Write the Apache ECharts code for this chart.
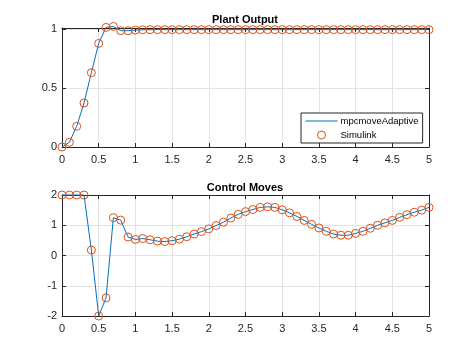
<!DOCTYPE html>
<html>
<head>
<meta charset="utf-8">
<script src="https://cdn.jsdelivr.net/npm/echarts@6/dist/echarts.min.js"></script>
<style>
html,body{margin:0;padding:0;background:#fff;}
#c{width:474px;height:355px;}
</style>
</head>
<body>
<div id="c"></div>
<script>
// Time samples (s)
const time = [0,0.1,0.2,0.3,0.4,0.5,0.6,0.7,0.8,0.9,1,1.1,1.2,1.3,1.4,1.5,1.6,1.7,1.8,1.9,2,2.1,2.2,2.3,2.4,2.5,2.6,2.7,2.8,2.9,3,3.1,3.2,3.3,3.4,3.5,3.6,3.7,3.8,3.9,4,4.1,4.2,4.3,4.4,4.5,4.6,4.7,4.8,4.9,5];
// Plant Output
const plantOutput = [0,0.04,0.176,0.374,0.632,0.881,1.017,1.025,0.989,0.989,0.994,0.997,0.998,0.998,0.998,0.998,0.998,0.998,0.998,0.998,0.998,0.998,0.998,0.998,0.998,0.998,0.998,0.998,0.998,0.998,0.998,0.998,0.998,0.998,0.998,0.998,0.998,0.998,0.998,0.998,0.998,0.998,0.998,0.998,0.998,0.998,0.998,0.998,0.998,0.998,0.998];
// Control Moves
const controlMoves = [2,2,2,2,0.18,-2,-1.4,1.25,1.17,0.61,0.53,0.56,0.52,0.475,0.46,0.49,0.54,0.62,0.71,0.79,0.88,0.99,1.1,1.24,1.36,1.45,1.52,1.59,1.61,1.59,1.51,1.41,1.29,1.16,1.03,0.91,0.8,0.71,0.67,0.67,0.73,0.8,0.9,1.0,1.08,1.16,1.26,1.35,1.43,1.5,1.59];
const xTicks = [0,0.5,1,1.5,2,2.5,3,3.5,4,4.5,5];
const seriesNames = ['mpcmoveAdaptive','Simulink'];
const titles = ['Plant Output','Control Moves'];

const BLUE = '#0072BD', ORANGE = '#D95319', AX = '#262626', GRID = '#e3e3e3';
const FONT = 'Liberation Sans, Arial, sans-serif';
const pairs = arr => time.map((t,i)=>[t,arr[i]]);

function xAx(gi, main){
  return {
    type:'value', gridIndex:gi, min:0, max:5, interval:0.5,
    position: main ? 'bottom' : 'top',
    axisLine:{show:true, onZero:false, lineStyle:{color:AX, width:1}},
    axisTick:{show:true, inside:true, length:4, lineStyle:{color:AX}},
    axisLabel:{show:main, color:AX, fontFamily:FONT, fontSize:11, margin:7,
      formatter: v => String(v)},
    splitLine:{show:main, lineStyle:{color:GRID, width:1}}
  };
}
function yAx(gi, main, min, max, interval){
  return {
    type:'value', gridIndex:gi, min:min, max:max, interval:interval,
    position: main ? 'left' : 'right',
    axisLine:{show:true, onZero:false, lineStyle:{color:AX, width:1}},
    axisTick:{show:true, inside:true, length:4, lineStyle:{color:AX}},
    axisLabel:{show:main, color:AX, fontFamily:FONT, fontSize:11, margin:5,
      showMaxLabel: gi===0 ? false : true,
      formatter: v => (Math.abs(v/interval - Math.round(v/interval))<1e-6) ? String(v) : ''},
    splitLine:{show:main, lineStyle:{color:GRID, width:1}}
  };
}

const chart = echarts.init(document.getElementById('c'), null, {renderer:'canvas'});
chart.setOption({
  backgroundColor:'#fff',
  animation:false,
  title:[
    {text:titles[0], left:240, top:9, textAlign:'center',
     textStyle:{fontFamily:FONT, fontSize:11, fontWeight:'bold', color:'#000'}},
    {text:titles[1], left:240, top:177, textAlign:'center',
     textStyle:{fontFamily:FONT, fontSize:11, fontWeight:'bold', color:'#000'}}
  ],
  grid:[
    {left:62, top:28, width:367, height:119, show:false},
    {left:62, top:195, width:367, height:121, show:false}
  ],
  xAxis:[xAx(0,true), xAx(0,false), xAx(1,true), xAx(1,false)],
  yAxis:[yAx(0,true,0,1.012,0.5), yAx(0,false,0,1.012,0.5), yAx(1,true,-2,2,1), yAx(1,false,-2,2,1)],
  legend:{
    data:[
      {name:seriesNames[0], itemStyle:{color:'rgba(0,0,0,0)', borderWidth:0, opacity:0}, lineStyle:{color:BLUE, width:1}},
      {name:seriesNames[1], itemStyle:{color:'rgba(0,0,0,0)', borderColor:ORANGE, borderWidth:1}}
    ],
    orient:'vertical', left:301, top:113, itemWidth:32, itemHeight:8, itemGap:4,
    padding:[3,4,3,4],
    backgroundColor:'#fff', borderColor:AX, borderWidth:1,
    textStyle:{fontFamily:FONT, fontSize:9.5, color:'#000', padding:[0,0,0,-2]}
  },
  series:[
    {name:seriesNames[0], type:'line', xAxisIndex:0, yAxisIndex:0, data:pairs(plantOutput), clip:false,
     showSymbol:false, symbol:'none', lineStyle:{color:BLUE, width:1}, itemStyle:{color:BLUE}, z:2},
    {name:seriesNames[1], type:'scatter', xAxisIndex:0, yAxisIndex:0, data:pairs(plantOutput), clip:false,
     symbol:'circle', symbolSize:8, itemStyle:{color:'rgba(0,0,0,0)', borderColor:ORANGE, borderWidth:1, opacity:1}, z:3},
    {name:seriesNames[0], type:'line', xAxisIndex:2, yAxisIndex:2, data:pairs(controlMoves), clip:false,
     showSymbol:false, symbol:'none', lineStyle:{color:BLUE, width:1}, itemStyle:{color:BLUE}, z:2},
    {name:seriesNames[1], type:'scatter', xAxisIndex:2, yAxisIndex:2, data:pairs(controlMoves), clip:false,
     symbol:'circle', symbolSize:8, itemStyle:{color:'rgba(0,0,0,0)', borderColor:ORANGE, borderWidth:1, opacity:1}, z:3}
  ]
});
</script>
</body>
</html>
